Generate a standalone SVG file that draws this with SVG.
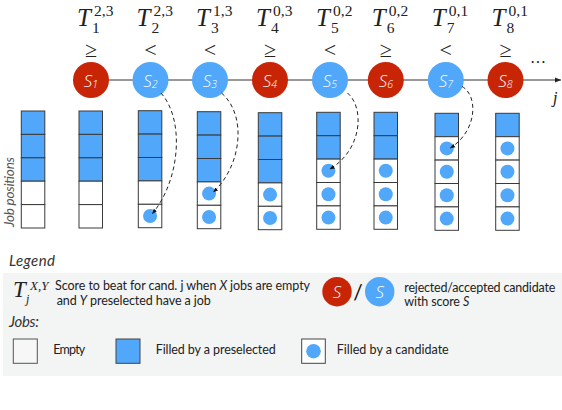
<svg xmlns="http://www.w3.org/2000/svg" width="562" height="410" viewBox="0 0 562 410">
<defs>
<style>
.red{fill:#C82506}
.blue{fill:#51A7F9}
.nl{font-family:"Open Sans",Lato,sans-serif;font-style:italic;font-weight:300;font-size:17px;fill:#fff;text-anchor:middle}
.nl .sub{font-size:10.5px}
.T{font-family:"Liberation Serif",serif;font-style:italic;font-size:25px;fill:#222}
.sup{font-family:"Liberation Serif",serif;font-size:15.5px;fill:#222}
.rel{font-family:"Liberation Serif",serif;font-size:22px;fill:#222;text-anchor:middle}
.cell{stroke:#3a3a3a;stroke-width:1}
.empty{fill:#fff}
.pre{fill:#51A7F9}
.dot{fill:#51A7F9}
.dash{fill:none;stroke:#222;stroke-width:1;stroke-dasharray:4 3}
.lg{font-family:Lato,"Open Sans",sans-serif;font-size:12.5px;fill:#222}
.lgi{font-family:Lato,"Open Sans",sans-serif;font-style:italic;font-size:15px;fill:#333}
</style>
<marker id="ah" viewBox="0 0 10 10" refX="9" refY="5" markerWidth="5" markerHeight="5" orient="auto" markerUnits="userSpaceOnUse">
<path d="M0,1 L10,5 L0,9 z" fill="#111"/>
</marker>
<marker id="ax" viewBox="0 0 10 10" refX="10" refY="5" markerWidth="7" markerHeight="6" orient="auto" markerUnits="userSpaceOnUse">
<path d="M0,1 L10,5 L0,9 z" fill="#222"/>
</marker>
</defs>

<g id="connectors">
<line x1="91" y1="80" x2="561" y2="80" stroke="#333" stroke-width="1" marker-end="url(#ax)"/>
</g>

<g id="thresholds">
<text class="T" x="77" y="26">T</text><text class="sup" x="94" y="16">2,3</text><text class="sup" x="92" y="32.5">1</text>
<text class="T" x="136.5" y="26">T</text><text class="sup" x="153.5" y="16">2,3</text><text class="sup" x="151.5" y="32.5">2</text>
<text class="T" x="196" y="26">T</text><text class="sup" x="213" y="16">1,3</text><text class="sup" x="211" y="32.5">3</text>
<text class="T" x="256" y="26">T</text><text class="sup" x="273" y="16">0,3</text><text class="sup" x="271" y="32.5">4</text>
<text class="T" x="316" y="26">T</text><text class="sup" x="333" y="16">0,2</text><text class="sup" x="331" y="32.5">5</text>
<text class="T" x="371.8" y="26">T</text><text class="sup" x="388.8" y="16">0,2</text><text class="sup" x="386.8" y="32.5">6</text>
<text class="T" x="431.8" y="26">T</text><text class="sup" x="448.8" y="16">0,1</text><text class="sup" x="446.8" y="32.5">7</text>
<text class="T" x="491.5" y="26">T</text><text class="sup" x="508.5" y="16">0,1</text><text class="sup" x="506.5" y="32.5">8</text>
<text class="rel" x="91" y="56.5">≥</text>
<text class="rel" x="150.5" y="56.5">&lt;</text>
<text class="rel" x="210" y="56.5">&lt;</text>
<text class="rel" x="270" y="56.5">≥</text>
<text class="rel" x="330" y="56.5">&lt;</text>
<text class="rel" x="385.8" y="56.5">≥</text>
<text class="rel" x="445.8" y="56.5">&lt;</text>
<text class="rel" x="505.5" y="56.5">≥</text>
<text x="538" y="68" font-family="'Liberation Serif',serif" font-size="16" fill="#111" text-anchor="middle">···</text>
<text x="553" y="103" font-family="'Liberation Serif',serif" font-style="italic" font-size="16" fill="#111">j</text>
</g>

<g id="S1"><circle class="red" cx="91" cy="80" r="18"/><text class="nl" x="91" y="86.5">S<tspan class="sub" dy="1.5">1</tspan></text></g>
<g id="S2"><circle class="blue" cx="150.5" cy="80" r="18"/><text class="nl" x="150.5" y="86.5">S<tspan class="sub" dy="1.5">2</tspan></text></g>
<g id="S3"><circle class="blue" cx="210" cy="80" r="18"/><text class="nl" x="210" y="86.5">S<tspan class="sub" dy="1.5">3</tspan></text></g>
<g id="S4"><circle class="red" cx="270" cy="80" r="18"/><text class="nl" x="270" y="86.5">S<tspan class="sub" dy="1.5">4</tspan></text></g>
<g id="S5"><circle class="blue" cx="330" cy="80" r="18"/><text class="nl" x="330" y="86.5">S<tspan class="sub" dy="1.5">5</tspan></text></g>
<g id="S6"><circle class="red" cx="385.8" cy="80" r="18"/><text class="nl" x="385.8" y="86.5">S<tspan class="sub" dy="1.5">6</tspan></text></g>
<g id="S7"><circle class="blue" cx="445.8" cy="80" r="18"/><text class="nl" x="445.8" y="86.5">S<tspan class="sub" dy="1.5">7</tspan></text></g>
<g id="S8"><circle class="red" cx="505.5" cy="80" r="18"/><text class="nl" x="505.5" y="86.5">S<tspan class="sub" dy="1.5">8</tspan></text></g>

<text transform="translate(13.8,192) rotate(-90)" font-family="Lato,'Open Sans',sans-serif" font-style="italic" font-size="13.5" fill="#555" text-anchor="middle" textLength="70">Job positions</text>

<g id="col0" transform="translate(21.3,111)">
<rect class="cell pre" x="0" y="0" width="23.5" height="23.4"/><rect class="cell pre" x="0" y="23.4" width="23.5" height="23.4"/><rect class="cell pre" x="0" y="46.8" width="23.5" height="23.4"/>
<rect class="cell empty" x="0" y="70.2" width="23.5" height="23.4"/><rect class="cell empty" x="0" y="93.6" width="23.5" height="23.4"/>
</g>
<g id="col1" transform="translate(79,111)">
<rect class="cell pre" x="0" y="0" width="23.5" height="23.4"/><rect class="cell pre" x="0" y="23.4" width="23.5" height="23.4"/><rect class="cell pre" x="0" y="46.8" width="23.5" height="23.4"/>
<rect class="cell empty" x="0" y="70.2" width="23.5" height="23.4"/><rect class="cell empty" x="0" y="93.6" width="23.5" height="23.4"/>
</g>
<g id="col2" transform="translate(138.3,110.7)">
<rect class="cell pre" x="0" y="0" width="23.5" height="23.4"/><rect class="cell pre" x="0" y="23.4" width="23.5" height="23.4"/><rect class="cell pre" x="0" y="46.8" width="23.5" height="23.4"/>
<rect class="cell empty" x="0" y="70.2" width="23.5" height="23.4"/><rect class="cell empty" x="0" y="93.6" width="23.5" height="23.4"/>
<circle class="dot" cx="11.75" cy="105.3" r="7"/>
</g>
<g id="col3" transform="translate(197.3,111.7)">
<rect class="cell pre" x="0" y="0" width="23.5" height="23.4"/><rect class="cell pre" x="0" y="23.4" width="23.5" height="23.4"/><rect class="cell pre" x="0" y="46.8" width="23.5" height="23.4"/>
<rect class="cell empty" x="0" y="70.2" width="23.5" height="23.4"/><rect class="cell empty" x="0" y="93.6" width="23.5" height="23.4"/>
<circle class="dot" cx="11.75" cy="81.9" r="7"/><circle class="dot" cx="11.75" cy="105.3" r="7"/>
</g>
<g id="col4" transform="translate(258.3,112.7)">
<rect class="cell pre" x="0" y="0" width="23.5" height="23.4"/><rect class="cell pre" x="0" y="23.4" width="23.5" height="23.4"/><rect class="cell pre" x="0" y="46.8" width="23.5" height="23.4"/>
<rect class="cell empty" x="0" y="70.2" width="23.5" height="23.4"/><rect class="cell empty" x="0" y="93.6" width="23.5" height="23.4"/>
<circle class="dot" cx="11.75" cy="81.9" r="7"/><circle class="dot" cx="11.75" cy="105.3" r="7"/>
</g>
<g id="col5" transform="translate(316.7,112.3)">
<rect class="cell pre" x="0" y="0" width="23.5" height="23.4"/><rect class="cell pre" x="0" y="23.4" width="23.5" height="23.4"/>
<rect class="cell empty" x="0" y="46.8" width="23.5" height="23.4"/><rect class="cell empty" x="0" y="70.2" width="23.5" height="23.4"/><rect class="cell empty" x="0" y="93.6" width="23.5" height="23.4"/>
<circle class="dot" cx="11.75" cy="58.5" r="7"/><circle class="dot" cx="11.75" cy="81.9" r="7"/><circle class="dot" cx="11.75" cy="105.3" r="7"/>
</g>
<g id="col6" transform="translate(374,112.3)">
<rect class="cell pre" x="0" y="0" width="23.5" height="23.4"/><rect class="cell pre" x="0" y="23.4" width="23.5" height="23.4"/>
<rect class="cell empty" x="0" y="46.8" width="23.5" height="23.4"/><rect class="cell empty" x="0" y="70.2" width="23.5" height="23.4"/><rect class="cell empty" x="0" y="93.6" width="23.5" height="23.4"/>
<circle class="dot" cx="11.75" cy="58.5" r="7"/><circle class="dot" cx="11.75" cy="81.9" r="7"/><circle class="dot" cx="11.75" cy="105.3" r="7"/>
</g>
<g id="col7" transform="translate(435,113.3)">
<rect class="cell pre" x="0" y="0" width="23.5" height="23.4"/>
<rect class="cell empty" x="0" y="23.4" width="23.5" height="23.4"/><rect class="cell empty" x="0" y="46.8" width="23.5" height="23.4"/><rect class="cell empty" x="0" y="70.2" width="23.5" height="23.4"/><rect class="cell empty" x="0" y="93.6" width="23.5" height="23.4"/>
<circle class="dot" cx="11.75" cy="35.1" r="7"/><circle class="dot" cx="11.75" cy="58.5" r="7"/><circle class="dot" cx="11.75" cy="81.9" r="7"/><circle class="dot" cx="11.75" cy="105.3" r="7"/>
</g>
<g id="col8" transform="translate(495.7,113.3)">
<rect class="cell pre" x="0" y="0" width="23.5" height="23.4"/>
<rect class="cell empty" x="0" y="23.4" width="23.5" height="23.4"/><rect class="cell empty" x="0" y="46.8" width="23.5" height="23.4"/><rect class="cell empty" x="0" y="70.2" width="23.5" height="23.4"/><rect class="cell empty" x="0" y="93.6" width="23.5" height="23.4"/>
<circle class="dot" cx="11.75" cy="35.1" r="7"/><circle class="dot" cx="11.75" cy="58.5" r="7"/><circle class="dot" cx="11.75" cy="81.9" r="7"/><circle class="dot" cx="11.75" cy="105.3" r="7"/>
</g>

<g id="assignments">
<path class="dash" d="M161,93 C185,120 180,180 152.5,213.5" marker-end="url(#ah)"/>
<path class="dash" d="M221.5,93 C247,115 242,165 213.5,192" marker-end="url(#ah)"/>
<path class="dash" d="M347.5,93 C365,108 362,150 330,169" marker-end="url(#ah)"/>
<path class="dash" d="M462,86.5 C478,95 478,130 450.5,148" marker-end="url(#ah)"/>
</g>

<g id="legend">
<text class="lgi" x="9" y="266" textLength="46">Legend</text>
<rect x="3" y="273" width="559" height="103" fill="#F3F4F4"/>
<text x="13" y="297" font-family="'Liberation Serif',serif" font-style="italic" font-size="23" fill="#222">T</text>
<text x="30" y="290" font-family="'Liberation Serif',serif" font-style="italic" font-size="13" fill="#222">X,Y</text>
<text x="26" y="303" font-family="'Liberation Serif',serif" font-style="italic" font-size="12" fill="#222">j</text>
<text class="lg" x="55" y="290" textLength="255">Score to beat for cand. j when <tspan font-style="italic">X</tspan> jobs are empty</text>
<text class="lg" x="56.7" y="305" textLength="154">and <tspan font-style="italic">Y</tspan> preselected have a job</text>
<g id="legend-rejected"><circle class="red" cx="337" cy="291.7" r="14.7"/><text class="nl" x="337" y="298" font-size="18">S</text></g>
<text x="358" y="300" font-family="Lato,'Open Sans',sans-serif" font-size="21" fill="#111" text-anchor="middle">/</text>
<g id="legend-accepted"><circle class="blue" cx="379.7" cy="291.7" r="14.7"/><text class="nl" x="379.7" y="298" font-size="18">S</text></g>
<text class="lg" x="404.3" y="292" textLength="151">rejected/accepted candidate</text>
<text class="lg" x="404.3" y="306" textLength="65">with score <tspan font-style="italic">S</tspan></text>
<text class="lgi" x="9" y="327" textLength="30">Jobs:</text>
<g id="legend-empty"><rect x="13.3" y="339" width="24" height="24.3" fill="#F7F7F7" stroke="#555" stroke-width="1"/><text class="lg" x="53.3" y="353.5" textLength="32">Empty</text></g>
<g id="legend-pre"><rect x="116" y="339" width="24" height="24.3" fill="#51A7F9" stroke="#444" stroke-width="1"/><text class="lg" x="155.7" y="353.5" textLength="120">Filled by a preselected</text></g>
<g id="legend-cand"><rect x="301.7" y="339" width="23.6" height="24.3" fill="#fff" stroke="#444" stroke-width="1"/><circle class="dot" cx="313.5" cy="351.2" r="7.3"/><text class="lg" x="336.7" y="353.5" textLength="112">Filled by a candidate</text></g>
</g>
</svg>
